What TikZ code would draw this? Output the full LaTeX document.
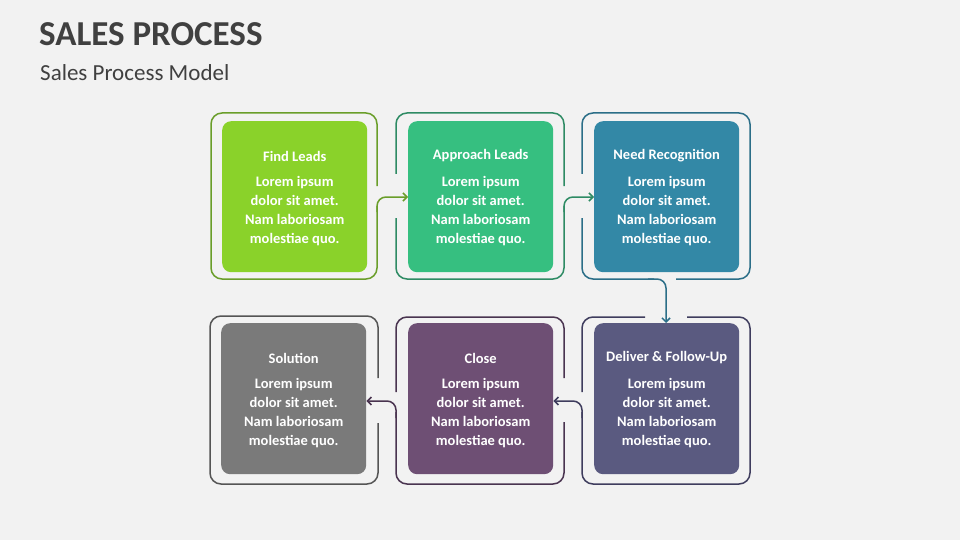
\documentclass[tikz,border=0pt]{standalone}
\usepackage{fontspec}
\setmainfont{Carlito}
\usetikzlibrary{arrows.meta}
\begin{document}
\begin{tikzpicture}[x=1pt,y=-1pt,
  box/.style={rounded corners=9pt,minimum width=145pt,minimum height=151pt,inner sep=0pt,anchor=north west},
  frm/.style={line width=1.5pt,rounded corners=11pt},
  con/.style={line width=1.5pt,rounded corners=9pt,-{Straight Barb[length=4pt,width=8pt]}},
  hd/.style={text=white,font=\bfseries\fontsize{14.5}{17}\selectfont},
  bd/.style={text=white,font=\bfseries\fontsize{14.5}{19}\selectfont,align=center}]
\useasboundingbox[fill={rgb,255:red,242;green,242;blue,242}] (0,0) rectangle (960,540);
\definecolor{c1}{HTML}{8AD22A}\definecolor{f1}{HTML}{6A9E2A}
\definecolor{c2}{HTML}{36BF80}\definecolor{f2}{HTML}{2E8B64}
\definecolor{c3}{HTML}{3388A6}\definecolor{f3}{HTML}{2B6E88}
\definecolor{c4}{HTML}{5A5A80}\definecolor{f4}{HTML}{3F3D5E}
\definecolor{c5}{HTML}{6E4F74}\definecolor{f5}{HTML}{4A3450}
\definecolor{c6}{HTML}{7A7A7A}\definecolor{f6}{HTML}{555555}
\node[anchor=base west,inner sep=0pt,text={rgb,255:red,64;green,64;blue,64},font=\bfseries\fontsize{35}{35}\selectfont] (title) at (39,46) {SALES PROCESS};
\node[anchor=base west,inner sep=0pt,text={rgb,255:red,64;green,64;blue,64},font=\fontsize{23}{23}\selectfont] (sub) at (40,81) {Sales Process Model};
\newcommand\stepbox[4]{%
  \node[box,fill=#2] (#1) at (#3) {};
  \node[hd] (#1h) at ([yshift=-35pt]#1.north) {#4};
  \node[bd] (#1b) at ([yshift=-90pt]#1.north) {Lorem ipsum\\dolor sit amet.\\Nam laboriosam\\molestiae quo.};}
\stepbox{b1}{c1}{222,121}{Find Leads}
\stepbox{b2}{c2}{408,121}{Approach Leads}
\stepbox{b3}{c3}{594,121}{Need Recognition}
\stepbox{b4}{c4}{594,323}{Deliver \& Follow-Up}
\stepbox{b5}{c5}{408,323}{Close}
\stepbox{b6}{c6}{221,323}{Solution}
\coordinate (ya) at (0,197);
\coordinate (yb) at (0,401);
\coordinate (xa) at (666,0);
% frame 1
\draw[f1,frm] (377,186)--(377,113)--(211,113)--(211,279)--(377,279)--(377,206);
\draw[f1,con] (377,212)--(377,197)--(b2.west|-ya);
% frame 2
\draw[f2,frm] (396,174)--(396,113)--(564,113)--(564,186);
\draw[f2,frm] (396,218)--(396,279)--(564,279)--(564,206);
\draw[f2,con] (564,212)--(564,197)--(b3.west|-ya);
% frame 3
\draw[f3,frm] (582,174)--(582,113)--(750,113)--(750,279)--(676,279);
\draw[f3,frm] (582,218)--(582,279)--(654,279);
\draw[f3,con] (648,279)--(666,279)--(b4.north-|xa);
% frame 4
\draw[f4,frm] (645,317)--(582,317)--(582,392);
\draw[f4,frm] (687,317)--(750,317)--(750,484)--(582,484)--(582,412);
\draw[f4,con] (582,418)--(582,401)--(b5.east|-yb);
% frame 5
\draw[f5,frm] (564,378)--(564,317)--(396,317)--(396,392);
\draw[f5,frm] (564,422)--(564,484)--(396,484)--(396,412);
\draw[f5,con] (396,418)--(396,401)--(b6.east|-yb);
% frame 6
\draw[f6,frm] (378,378)--(378,316)--(210,316)--(210,484)--(378,484)--(378,423);
\end{tikzpicture}
\end{document}
